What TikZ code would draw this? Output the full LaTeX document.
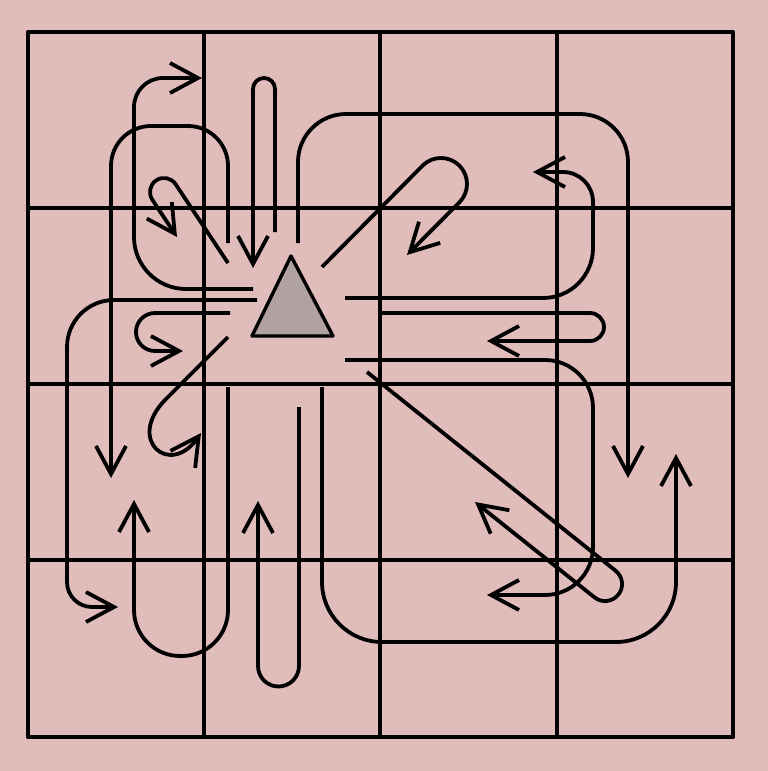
\documentclass[tikz,border=0pt]{standalone}
\usetikzlibrary{arrows.meta}
\definecolor{bg}{RGB}{224,188,187}
\definecolor{tri}{RGB}{176,161,162}
\begin{document}
\begin{tikzpicture}[x=1pt,y=-1pt,line join=round,
  gridline/.style={line width=4.3pt},
  flow/.style={line width=3.8pt,-{Straight Barb[length=28pt,width=30pt]}}]
\fill[bg] (0,0) rectangle (768,771);
\useasboundingbox (0,0) rectangle (768,771);
% grid
\draw[gridline] (28,32) rectangle (733,737);
\foreach \g in {204,380,557} \draw[gridline] (\g,32) -- (\g,737);
\foreach \g in {208,384,560} \draw[gridline] (28,\g) -- (733,\g);
% triangle
\draw[line width=3.4pt,fill=tri] (291,256) -- (252,336) -- (333,336) -- cycle;
% A
\draw[flow,rounded corners=40] (228,243) -- (228,126) -- (111,126) -- (111,478);
% B
\draw[flow] (253,289) -- (186,289) arc[start angle=90,end angle=180,radius=52]
  -- (134,107) arc[start angle=180,end angle=270,radius=29] -- (202,78);
% C
\draw[flow] (275,232) -- (275,89) arc[start angle=0,end angle=-180,radius=11] -- (253,268);
% D
\draw[flow] (228,263) -- (175.6,184.2) arc[start angle=-33.7,end angle=-213.7,radius=14] -- (177,237);
% F
\draw[flow] (257,300) -- (114,300) arc[start angle=270,end angle=180,radius=47]
  -- (67,582) arc[start angle=180,end angle=90,radius=25] -- (118,607);
% G
\draw[flow] (230,313) -- (155,313) arc[start angle=270,end angle=90,radius=19] -- (183,351);
% H
\draw[flow] (228,337) -- (166,399) .. controls (125,440) and (170,478) .. (201,433);
% I
\draw[flow,rounded corners=46] (228,387) -- (228,656) -- (134,656) -- (134,500);
% J
\draw[flow] (299,407) -- (299,666) arc[start angle=0,end angle=180,radius=20.5] -- (258,501);
% K
\draw[flow,rounded corners=60] (322,387) -- (322,642) -- (676,642) -- (676,454);
% Q
\draw[flow,rounded corners=48] (298,243) -- (298,114) -- (628,114) -- (628,478);
% L
\draw[flow] (345,298) -- (543,298) arc[start angle=90,end angle=0,radius=50]
  -- (593,202) arc[start angle=0,end angle=-90,radius=30] -- (533,172);
% M
\draw[flow] (380,313) -- (590,313) arc[start angle=-90,end angle=90,radius=14] -- (487,341);
% N
\draw[flow,rounded corners=48] (345,360) -- (593,360) -- (593,595) -- (487,595);
% O
\draw[flow] (367,372) -- (615.7,570.8) arc[start angle=-51.2,end angle=128.8,radius=17] -- (475,502);
% P
\draw[flow] (322,267) -- (422.6,165.6) arc[start angle=-135,end angle=45,radius=26] -- (407,255);
\end{tikzpicture}
\end{document}
